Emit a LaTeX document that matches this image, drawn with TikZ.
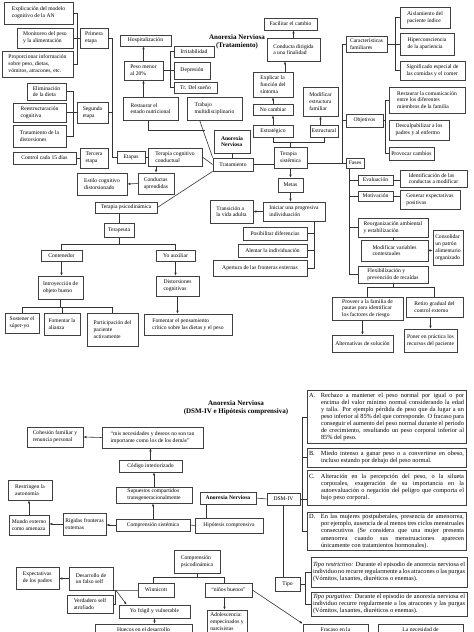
\documentclass[tikz,border=0pt]{standalone}
\usepackage{fontspec}
\setmainfont{Liberation Serif}
\usetikzlibrary{arrows.meta,calc}
\newcommand\fs{\fontsize{5.6}{6.8}\selectfont}
\newcommand\pfs{\fontsize{6.3}{7.1}\selectfont\hyphenpenalty=10000\exhyphenpenalty=10000\tolerance=9999\emergencystretch=6pt}
\newcommand\bx[7][]{%
  \pgfmathsetmacro\bxw{#5-(#3)}%
  \pgfmathsetmacro\bxh{#6-(#4)}%
  \node[box,minimum width=\bxw pt,minimum height=\bxh pt,#1] (#2) at ({(#3+#5)/2},{(#4+#6)/2}) {#7};}
\newcommand\lbl[2]{\begin{tabular}{@{}p{12pt}@{}p{#1}@{}}#2\end{tabular}}
\begin{document}
\begin{tikzpicture}[x=1pt,y=-1pt,
  box/.style={draw=black!75,line width=0.7pt,fill=white,inner sep=1.5pt,align=left,font=\fs},
  para/.style={align=justify,font=\pfs},
  ln/.style={draw=black!80,line width=0.6pt},
  arr/.style={ln,-{Latex[length=3pt,width=2.6pt]}},
  ttl/.style={font=\fontsize{7}{8}\selectfont\bfseries,align=center}]
\useasboundingbox (0,0) rectangle (474,632);
\fill[white] (0,0) rectangle (474,632);

% ================= TOP: Tratamiento =================
\node[ttl] (t1) at (237,42) {Anorexia Nerviosa\\(Tratamiento)};

\bx{e1}{4}{2}{73}{24}{Explicación del modelo\\cognitivo de la AN}
\bx{e2}{17}{28}{73}{48}{Monitoreo del peso\\y la alimentación}
\bx{e3}{2}{51}{73}{77}{Proporcionar información\\sobre peso, dietas,\\vómitos, atracones, etc.}
\bx{primera}{80}{28}{108}{48}{Primera\\etapa}
\bx{elim}{27}{83}{66}{100}{Eliminación\\de la dieta}
\bx{reestr}{13}{103}{66}{122}{Reestructuración\\cognitiva}
\bx{tdist}{13}{125}{66}{147}{Tratamiento de la\\distorsiones}
\bx{segunda}{77}{102}{108}{123}{Segunda\\etapa}
\bx{control}{13}{152}{76}{164}{Control cada 15 días}
\bx{tercera}{80}{148}{108}{168}{Tercera\\etapa}
\bx{etapas}{117}{151}{145}{163}{Etapas}
\bx{tcc}{148}{148}{202}{166}{Terapia cognitivo\\conductual}

\draw[ln] (e1.east) -- ++(4,0) |- (e3.east);
\draw[ln] (e2.east) -- (primera.west);
\draw[ln] (elim.east) -- ++(7,0) |- (tdist.east);
\draw[ln] (reestr.east) -- (segunda.west);
\draw[ln] (control.east) -- (tercera.west);
\draw[ln] (primera.east) -- ++(4,0) |- (etapas.west);
\draw[ln] (segunda.east) -- ++(4,0);
\draw[ln] (etapas.east) -- (tcc.west);

\bx{hosp}{120}{35}{171}{46}{Hospitalización}
\bx{peso20}{124}{61}{163}{80}{Peso menor\\al 20\%}
\bx{restaurar}{123}{97}{178}{120}{Restaurar el\\estado nutricional}
\bx{irrit}{174}{46}{214}{57}{Irritabilidad}
\bx{depre}{174}{62}{210}{79}{Depresión}
\bx{sueno}{174}{82}{217}{93}{Tr. Del sueño}
\draw[arr] (peso20.south |- restaurar.north) -- (peso20.south);
\draw[arr] (peso20.north) -- (peso20.north |- hosp.south);
\draw[ln] (peso20.east) -- (depre.west);
\draw[ln] (irrit.west) -- ++(-3,0) |- (sueno.west);

\bx{trabajo}{187}{97}{242}{120}{Trabajo\\multidisciplinario}
\bx[font=\fs\bfseries]{an1}{214}{130}{250}{153}{Anorexia\\Nerviosa}
\bx{tratamiento}{213}{158}{253}{171}{Tratamiento}
\draw[ln] (an1.south) -- (an1.south |- tratamiento.north);
\draw[ln] (tcc.east) -- (tratamiento.west);
\coordinate (tb) at ($(trabajo.south west)+(13,0)$);
\draw[ln] (tb) -- (tratamiento.north west);
\coordinate (rb) at ($(restaurar.south)+(-2,0)$);
\draw[ln] (rb) -- ++(0,10) -- ++(56,0);

\bx{conductas}{138}{173}{174}{194}{Conductas\\aprendidas}
\bx{estilo}{77}{173}{127}{195}{Estilo cognitivo\\distorsionado}
\draw[arr] (conductas.north |- tcc.south) -- (conductas.north);
\draw[arr] (conductas.west) -- (estilo.east);

\bx{psico}{95}{202}{157}{213}{Terapia psicodinámica}
\bx{terapeuta}{104}{223}{134}{237}{Terapeuta}
\draw[ln] (tratamiento.south west) -- (psico.east);
\draw[ln] (terapeuta.north |- psico.south) -- (terapeuta.north);
\draw[ln] (terapeuta.south) -- ++(0,7) coordinate (tj);
\bx{cont}{41}{250}{82}{261}{Contenedor}
\bx{yoaux}{156}{250}{195}{261}{Yo auxiliar}
\draw[ln] (cont.north) |- (tj) -| (yoaux.north);
\bx{intro}{38}{276}{83}{299}{Introyección de\\objeto bueno}
\bx{dist}{156}{276}{199}{296}{Distorsiones\\cognitivas}
\draw[arr] (cont.south) -- (cont.south |- intro.north);
\draw[arr] (yoaux.south) -- (yoaux.south |- dist.north);
\bx{fompc}{144}{314}{232}{335}{Fomentar el pensamiento\\crítico sobre las dietas y el peso}
\draw[arr] (dist.south) -- (dist.south |- fompc.north);
\bx{sostener}{5}{313}{39}{333}{Sostener el\\súper-yo}
\bx{alianza}{44}{313}{80}{335}{Fomentar la\\alianza}
\bx{particip}{87}{313}{138}{346}{Participación del\\paciente\\activamente}
\draw[ln] (intro.south) -- ++(0,8) coordinate (ij);
\draw[ln] (sostener.north) |- (ij) -| (particip.north);
\draw[ln] (alianza.north) -- (alianza.north |- ij);

% sistemica
\bx{fac}{264}{18}{317}{30}{Facilitar el cambio}
\bx{cond}{267}{38}{320}{61}{Conducta dirigida\\a una finalidad}
\bx{expl}{253}{72}{293}{97}{Explicar la\\función del\\síntoma}
\bx{nocamb}{253}{104}{293}{115}{No cambiar}
\bx{estrat}{253}{125}{293}{137}{Estratégico}
\bx{modif}{303}{87}{338}{116}{Modificar\\estructura\\familiar}
\bx{estruct}{310}{125}{338}{137}{Estructural}
\bx{tsist}{274}{147}{307}{168}{Terapia\\sistémica}
\draw[arr] (estrat.north) -- (nocamb.south);
\draw[arr] (nocamb.north) -- (expl.south);
\coordinate (ex) at ($(expl.north)+(12,0)$);
\draw[arr] (ex) -- (ex |- cond.south);
\draw[arr] (cond.north) -- (cond.north |- fac.south);
\draw[arr] (estruct.north -| modif) -- (modif.south);
\draw[ln] (estrat.south) -- ++(0,5) coordinate (sb) -| (estruct.south);
\draw[ln] (tsist.north) -- (tsist.north |- sb);
\draw[ln] (tratamiento.east) -- (tratamiento.east -| tsist.west);

\bx{carac}{346}{36}{387}{52}{Características\\familiares}
\bx{objetivos}{346}{114}{383}{127}{Objetivos}
\bx{fases}{346}{158}{364}{168}{Fases}
\draw[ln] (fases.west -| tsist.east) -- (fases.west);
\draw[ln] (carac.west) -- ++(-3,0) |- (fases.west);
\draw[ln] (objetivos.west) -- ++(-3,0);

\bx{aisl}{400}{7}{450}{28}{Aislamiento del\\paciente índice}
\bx{hiper}{400}{33}{454}{55}{Hiperconsciencia\\de la apariencia}
\bx{signif}{400}{61}{465}{80}{Significado especial de\\las comidas y el comer}
\draw[ln] (aisl.west) -- ++(-4,0) |- (signif.west);
\draw[ln] (carac.east) -- (carac.east -| hiper.west);

\bx{restcom}{389}{87}{465}{113}{Restaurar la comunicación\\entre los diferentes\\miembros de la familia}
\bx{descul}{389}{120}{449}{140}{Desculpabilizar a los\\padres y al enfermo}
\bx{provocar}{389}{147}{434}{160}{Provocar cambios}
\draw[ln] (restcom.west) -- ++(-3,0) |- (provocar.west);
\draw[ln] (objetivos.east) -- ++(3,0);

\bx{eval}{358}{175}{393}{185}{Evaluación}
\bx{motiv}{358}{191}{393}{201}{Motivación}
\bx{reorg}{358}{218}{428}{237}{Reorganización ambiental\\y estabilización}
\bx{modvar}{361}{240}{428}{261}{Modificar variables\\contextuales}
\bx{flex}{358}{266}{428}{283}{Flexibilización y\\prevención de recaídas}
\bx{ident}{400}{170}{467}{187}{Identificación de las\\conductas a modificar}
\bx{genexp}{400}{190}{460}{209}{Generar expectativas\\positivas}
\bx{consol}{433}{230}{463}{265}{Consolidar\\un patrón\\alimentario\\organizado}
\coordinate (fv) at ($(fases.south west)+(4,0)$);
\draw[ln] (fv) |- (flex.west);
\draw[ln] (eval.west) -- ++(-8,0);
\draw[ln] (motiv.west) -- ++(-8,0);
\draw[ln] (reorg.west) -- ++(-8,0);
\draw[ln] (eval.east) -- (eval.east -| ident.west);
\draw[ln] (motiv.east) -- (motiv.east -| genexp.west);
\draw[ln] (reorg.south) -- (modvar.north -| reorg.south);
\draw[arr] (modvar.east) -- (modvar.east -| consol.west);
\bx{proveer}{332}{297}{403}{320}{Proveer a la familia de\\pautas para identificar\\los factores de riesgo}
\bx{retiro}{406}{297}{463}{317}{Retiro gradual del\\control externo}
\bx{alt}{332}{335}{393}{352}{Alternativas de solución}
\bx{poner}{404}{329}{457}{352}{Poner en práctica los\\recursos del paciente}
\draw[ln] (flex.south) -- ++(0,4) coordinate (fj);
\draw[ln] (proveer.north) |- (fj) -| (retiro.north);
\draw[arr] (alt.north |- proveer.south) -- (alt.north);
\draw[arr] (poner.north |- retiro.south) -- (poner.north);

\bx{metas}{278}{178}{303}{192}{Metas}
\bx{iniciar}{263}{202}{325}{221}{Iniciar una progresiva\\individuación}
\bx{trans}{210}{200}{253}{223}{Transición a\\la vida adulta}
\bx{posib}{243}{227}{307}{240}{Posibilitar diferencias}
\bx{alent}{238}{244}{307}{257}{Alentar la individuación}
\bx{apert}{213}{260}{307}{276}{Apertura de las fronteras externas}
\draw[arr] (tsist.south) -- (metas.north);
\draw[arr] (metas.south) -- (metas.south |- iniciar.north);
\draw[arr] (iniciar.west) -- (trans.east);
\coordinate (iv) at ($(iniciar.south east)+(-11,0)$);
\draw[ln] (iv) |- (apert.east);
\draw[ln] (posib.east) -- ++(7,0);
\draw[ln] (alent.east) -- ++(7,0);

% ================= BOTTOM: DSM-IV =================
\node[ttl] (t2) at (236,408) {Anorexia Nerviosa\\(DSM-IV e Hipótesis comprensiva)};

\bx{cohesion}{27}{427}{83}{447}{Cohesión familiar y\\renuncia personal}
\bx{misnec}{102}{427}{203}{448}{“mis necesidades y deseos no son tan\\importante como los de los demás”}
\bx{codigo}{119}{460}{182}{472}{Código interiorizado}
\bx{supuestos}{116}{487}{192}{503}{Supuestos compartidos\\transgeneracionalmente}
\bx{restringen}{8}{480}{52}{500}{Restringen la\\autonomía}
\bx{mundo}{9}{515}{49}{535}{Mundo externo\\como amenaza}
\bx{rigidas}{63}{513}{106}{535}{Rígidas fronteras\\externas}
\bx{compsis}{116}{519}{190}{531}{Comprensión sistémica}
\bx{hipot}{195}{518}{263}{533}{Hipótesis comprensiva}
\bx[font=\fs\bfseries]{an2}{200}{492}{256}{504}{Anorexia Nerviosa}
\bx{dsm}{267}{493}{300}{505}{DSM-IV}
\draw[arr] (misnec.west) -- (cohesion.east);
\draw[arr] (codigo.north) -- (codigo.north |- misnec.south);
\draw[arr] (supuestos.north) -- (supuestos.north |- codigo.south);
\draw[arr] (compsis.north) -- (compsis.north |- supuestos.south);
\draw[arr] (compsis.west) -- (compsis.west -| rigidas.east);
\draw[arr] (rigidas.west) -- (rigidas.west -| mundo.east);
\draw[arr] (mundo.north) -- (mundo.north |- restringen.south);
\draw[ln] (hipot.west) -- (compsis.east);
\draw[ln] (an2.east) -- (dsm.west);
\coordinate (av) at ($(an2.south west)+(7,0)$);
\draw[ln] (av) -- (av |- hipot.north);

\bx[para,text width=155pt]{A}{307}{392}{466}{442}{\lbl{143pt}{A.&Rechazo a mantener el peso normal por igual o por encima del valor mínimo normal considerando la edad y talla. Por ejemplo pérdida de peso que da lugar a un peso inferior al 85\% del que corresponde. O fracaso para conseguir el aumento del peso normal durante el período de crecimiento, resultando un peso corporal inferior al 85\% del peso.}}
\bx[para,text width=155pt]{B}{307}{448}{466}{467}{\lbl{143pt}{B.&Miedo intenso a ganar peso o a convertirse en obeso, incluso estando por debajo del peso normal.}}
\bx[para,text width=155pt]{C}{307}{470}{466}{505}{\lbl{143pt}{C.&Alteración en la percepción del peso, o la silueta corporales, exageración de su importancia en la autoevaluación o negación del peligro que comporta el bajo peso corporal.}}
\bx[para,text width=155pt]{D}{307}{513}{466}{550}{\lbl{143pt}{D.&En las mujeres postpuberales, presencia de amenorrea, por ejemplo, ausencia de al menos tres ciclos menstruales consecutivos (Se considera que una mujer presenta amenorrea cuando sus menstruaciones aparecen únicamente con tratamientos hormonales).}}
\draw[ln] (dsm.east) -- (dsm.east -| C.west);
\draw[ln] (A.west) -- ++(-4,0) |- (D.west);
\draw[ln] (B.west) -- ++(-4,0);

\bx{tipo}{275}{577}{300}{591}{Tipo}
\bx[para,text width=152pt]{restr}{311}{557}{467}{587}{\textit{Tipo restrictivo:} Durante el episodio de anorexia nerviosa el individuo no recurre regularmente a los atracones o las purgas (Vómitos, laxantes, diuréticos o enemas).}
\bx[para,text width=152pt]{purg}{311}{592}{467}{616}{\textit{Tipo purgativo:} Durante el episodio de anorexia nerviosa el individuo recurre regularmente a los atracones y las purgas (Vómitos, laxantes, diuréticos o enemas).}
\draw[ln] (dsm.south) -- (dsm.south |- tipo.north);
\draw[ln] (tipo.east) -- ++(6,0);
\draw[ln] (restr.west) -- ++(-5,0) |- (purg.west);

\bx{compsi}{174}{550}{220}{573}{Comprensión\\psicodinámica}
\bx{winn}{138}{583}{174}{597}{Winnicott}
\bx{ninos}{205}{583}{252}{597}{“niños buenos”}
\draw[ln] (compsi.south) -- ++(0,4) coordinate (cj);
\draw[ln] ($(winn.north)+(-3,0)$) |- (cj) -| ($(ninos.north)+(-4,0)$);
\bx{adol}{207}{610}{247}{633}{Adolescencia:\\empecinados y\\narcisistas}
\coordinate (nb) at ($(ninos.south)+(-4,0)$);
\draw[arr] (nb) -- (nb |- adol.north);
\bx{desfalso}{69}{567}{113}{590}{Desarrollo de\\un falso self}
\bx{expect}{16}{567}{59}{589}{Expectativas\\de los padres}
\bx{verdadero}{67}{595}{113}{613}{Verdadero self\\atrofiado}
\bx{yofragil}{119}{605}{190}{618}{Yo frágil y vulnerable}
\draw[arr] (desfalso.west) -- (desfalso.west -| expect.east);
\coordinate (wj) at ($(winn.west)+(-22,0)$);
\draw[ln] (winn.west) -- (wj) -- (wj -| desfalso.east);
\draw[ln] (wj) |- (verdadero.east);
\draw[arr] (wj) -- ($(yofragil.north west)+(8,0)$);
\bx{bb1}{95}{624}{192}{635}{Huecos en el desarrollo}
\bx{bb2}{303}{624}{368}{635}{Fracaso en la}
\bx{bb3}{378}{624}{463}{635}{La necesidad de}
\draw[arr] (yofragil.south) -- (yofragil.south |- bb1.north);
\draw[arr] (ninos.east) -- (bb2.north west);
\end{tikzpicture}
\end{document}
